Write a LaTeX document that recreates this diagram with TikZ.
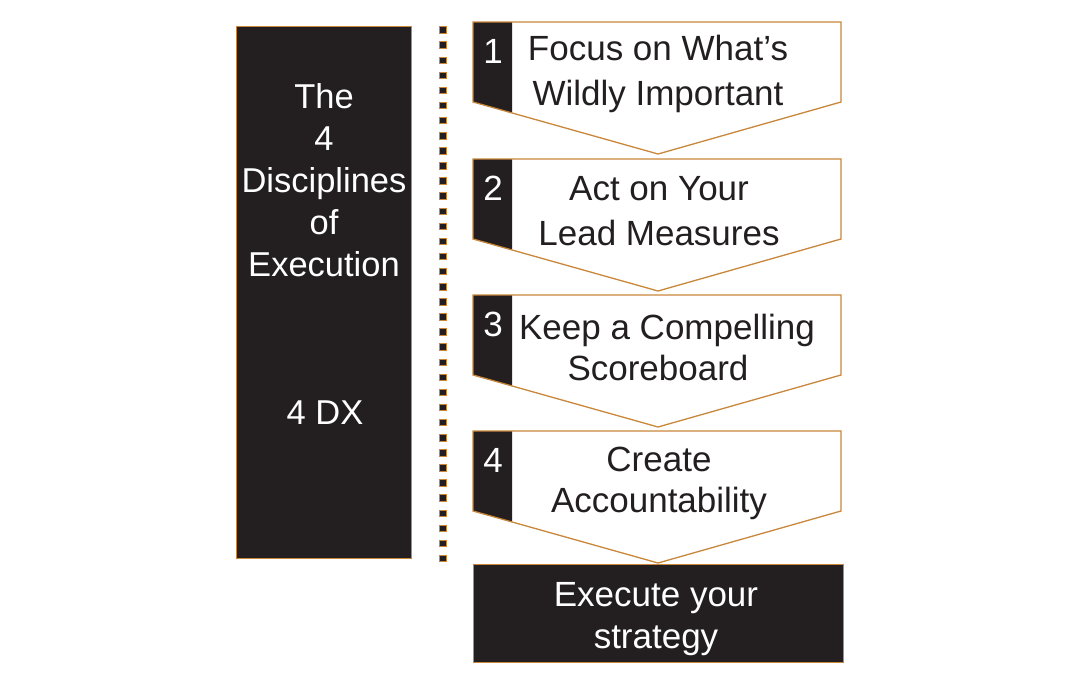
\documentclass[tikz,border=0pt]{standalone}
\usepackage{fontspec}
\setmainfont{Liberation Sans}
\definecolor{ink}{HTML}{231F20}
\definecolor{rim}{HTML}{C8873A}
\begin{document}
\begin{tikzpicture}[x=1pt,y=-1pt,
  chev/.style={draw=rim, line width=1.3pt, line join=miter},
  lbl/.style={text=ink, align=center, inner sep=0pt},
  num/.style={font=\fontsize{35}{42}\selectfont, text=white, inner sep=0pt},
  panel/.style={fill=ink, draw=rim, line width=0.8pt, inner sep=0pt},
  wlbl/.style={font=\fontsize{34.5}{42}\selectfont, text=white, align=center, inner sep=0pt},
  sq/.style={fill=ink, draw=rim, line width=0.4pt}]
\useasboundingbox (0,0) rectangle (1080,683);
% left panel
\node[panel, minimum width=175pt, minimum height=532pt] (panel) at (323.5,292) {};
\node[wlbl] (title) at (324,180) {The\\4\\Disciplines\\of\\Execution};
\node[wlbl] (dx) at (325,413) {4 DX};
% dotted separator
\foreach \i in {0,...,35}{
  \path[sq] (439,26.5+\i*15.1) rectangle (446,33+\i*15.1);
}
% chevrons
\foreach \t/\n/\cx/\bs/\txt in {22/1/658/45/{Focus on What’s\\Wildly Important},
                             159/2/659/45/{Act on Your\\Lead Measures},
                             295/3/658/41/{\hspace*{18pt}Keep a Compelling\\Scoreboard},
                             431/4/659/41/{Create\\Accountability}}{
  \fill[white] (473,\t) -- (841,\t) -- (841,\t+80) -- (658,\t+132) -- (473,\t+80) -- cycle;
  \fill[ink] (473,\t) -- (512,\t) -- (512,\t+91) -- (473,\t+80) -- cycle;
  \draw[chev] (473,\t) -- (841,\t) -- (841,\t+80) -- (658,\t+132) -- (473,\t+80) -- cycle;
  \node[num] (n\n) at (493,\t+29) {\n};
  \node[lbl, font=\fontsize{35}{\bs}\selectfont] (c\n) at (\cx,\t+52) {\txt};
}
% final box
\node[panel, minimum width=370pt, minimum height=98pt] (exec) at (658,613) {};
\node[wlbl, font=\fontsize{35}{42}\selectfont] (exectext) at (656,619) {Execute your\\strategy};
\end{tikzpicture}
\end{document}
